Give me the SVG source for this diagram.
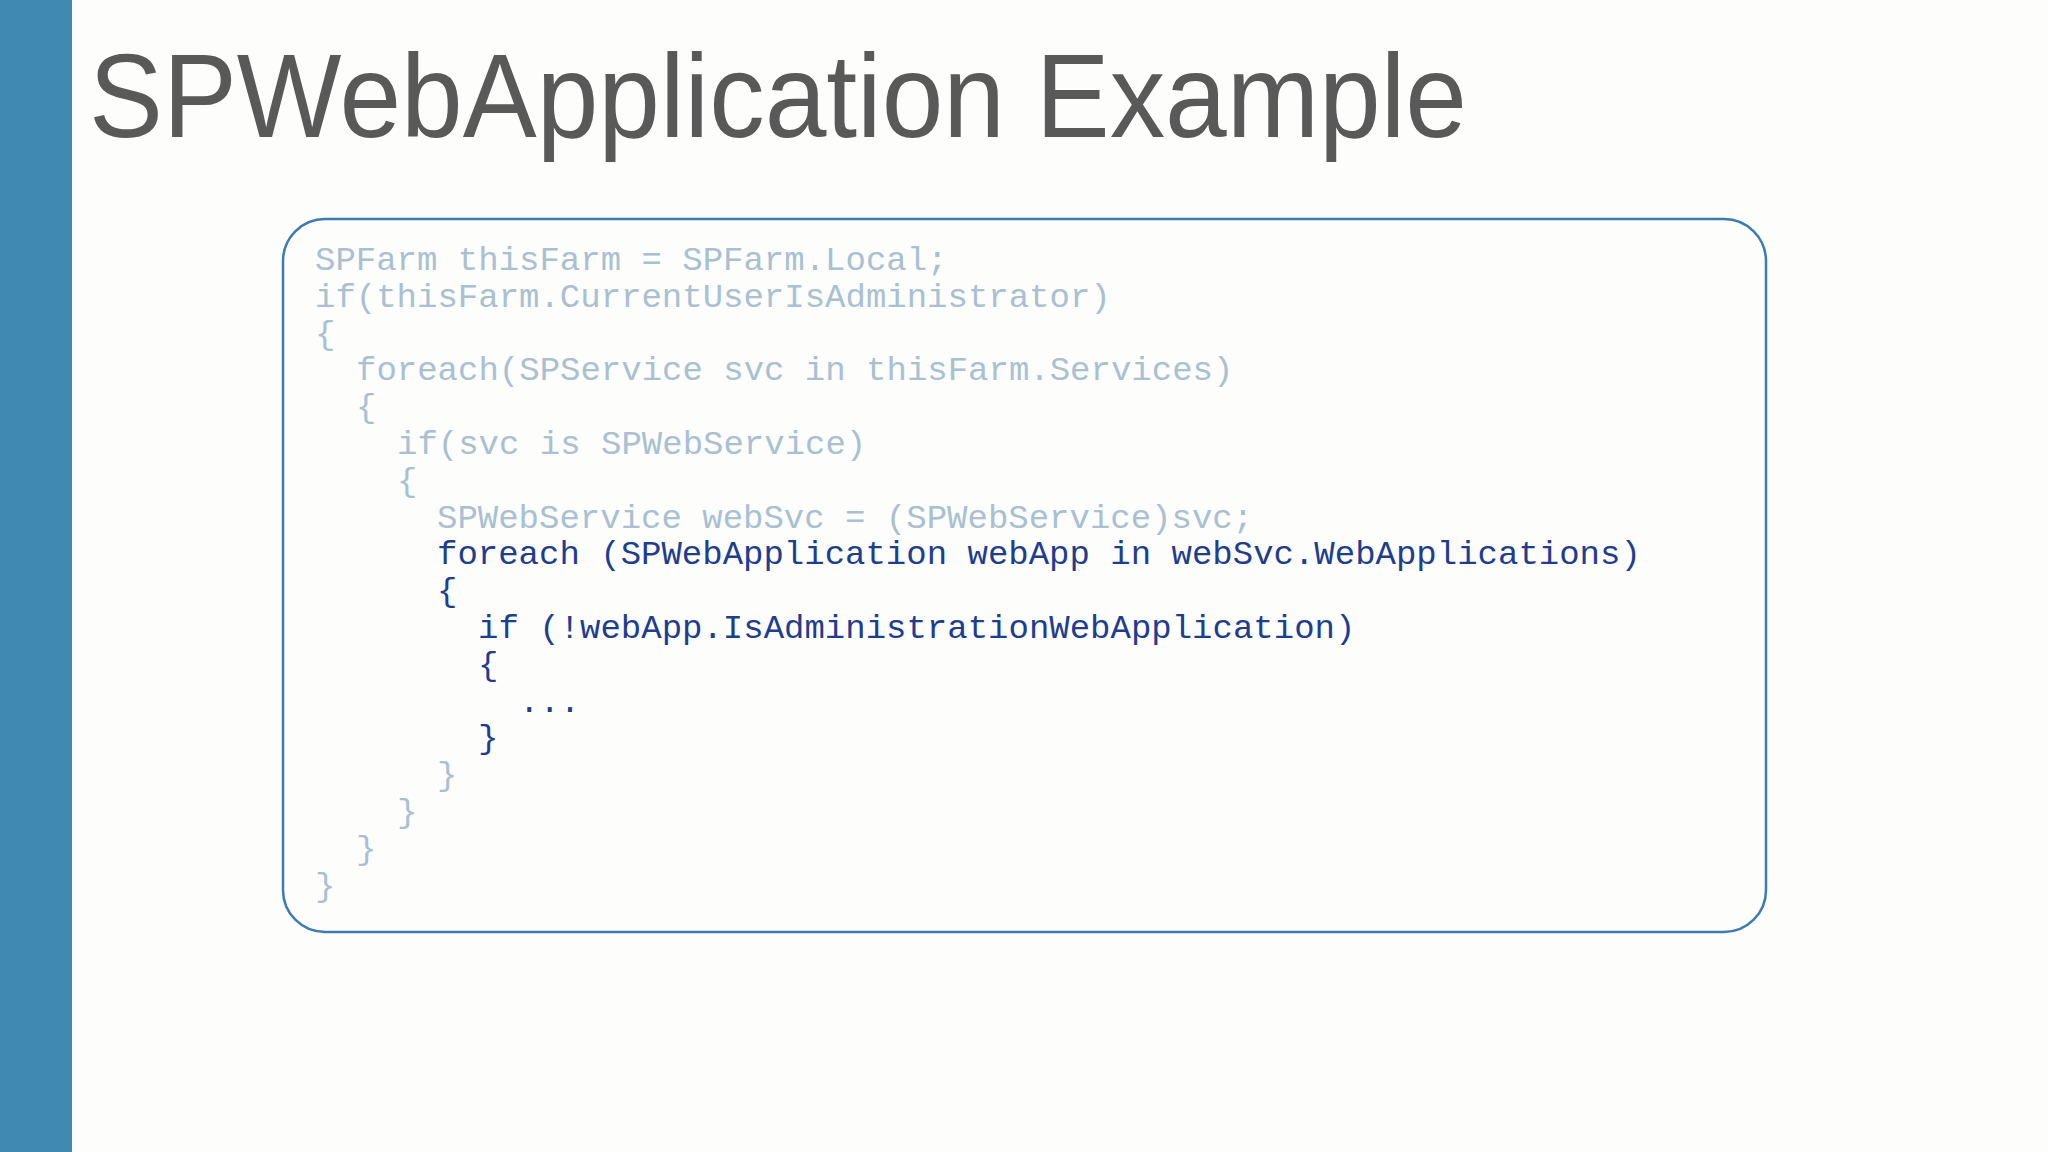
<svg xmlns="http://www.w3.org/2000/svg" width="2048" height="1152" viewBox="0 0 2048 1152">
<style>
.c{font-family:"Liberation Mono",monospace;font-size:34px}
.l{fill:#a9c0d2}
.d{fill:#1f3d8f}
</style>
<rect width="2048" height="1152" fill="#fdfdfc"/>
<rect width="72" height="1152" fill="#3f89b3"/>
<g id="title"><text x="89" y="137" font-family="Liberation Sans,Arial,sans-serif" font-size="118" fill="#595959" textLength="1378" lengthAdjust="spacingAndGlyphs">SPWebApplication Example</text></g>
<g id="codebox">
<rect x="283" y="219" width="1483" height="713" rx="42" fill="none" stroke="#3c7bb0" stroke-width="2.5"/>
<g class="c">
<text class="l" x="315" y="270">SPFarm thisFarm = SPFarm.Local;</text>
<text class="l" x="315" y="307">if(thisFarm.CurrentUserIsAdministrator)</text>
<text class="l" x="315" y="344">{</text>
<text class="l" x="356" y="380">foreach(SPService svc in thisFarm.Services)</text>
<text class="l" x="356" y="417">{</text>
<text class="l" x="397" y="454">if(svc is SPWebService)</text>
<text class="l" x="397" y="491">{</text>
<text class="l" x="437" y="528">SPWebService webSvc = (SPWebService)svc;</text>
<text class="d" x="437" y="564">foreach (SPWebApplication webApp in webSvc.WebApplications)</text>
<text class="d" x="437" y="601">{</text>
<text class="d" x="478" y="638">if (!webApp.IsAdministrationWebApplication)</text>
<text class="d" x="478" y="675">{</text>
<text class="d" x="519" y="712">...</text>
<text class="d" x="478" y="748">}</text>
<text class="l" x="437" y="785">}</text>
<text class="l" x="397" y="822">}</text>
<text class="l" x="356" y="859">}</text>
<text class="l" x="315" y="896">}</text>
</g>
</g>
</svg>
